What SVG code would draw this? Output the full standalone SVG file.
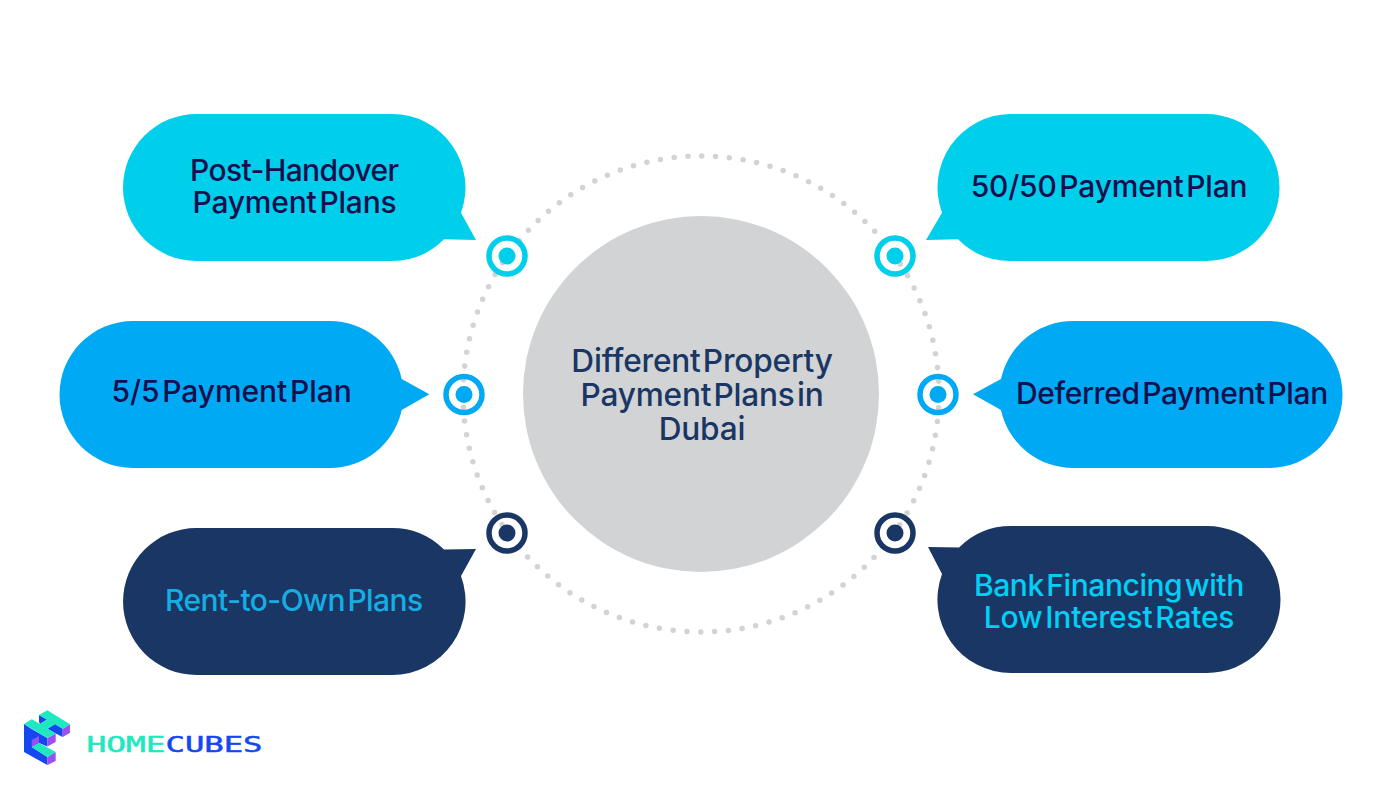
<svg xmlns="http://www.w3.org/2000/svg" width="1400" height="789" viewBox="0 0 1400 789">
<style>
text{font-family:"Inter","Noto Sans","Liberation Sans",sans-serif;font-size:30px;font-weight:500;text-anchor:middle;word-spacing:-5px;letter-spacing:-.2px}
.c{font-size:31.6px;word-spacing:-6px}
.d{fill:#160f4d}.n{fill:#1a3664}.l{fill:#00d0f5}.r{fill:none;stroke-width:5.5}
.logo{font-family:"DejaVu Sans Mono","Liberation Mono",monospace;font-size:22px;font-weight:400;text-anchor:start;word-spacing:0;letter-spacing:0;stroke-width:.5}
</style>
<rect width="1400" height="789" fill="#fff"/>
<g id="connectors"><circle cx="701" cy="394" r="238" fill="none" stroke="#d1d3d4" stroke-width="5.5" stroke-linecap="round" stroke-dasharray="0 13.85"/></g>
<g id="center"><circle cx="701" cy="394" r="178" fill="#d1d3d4"/>
<text class="n c" x="702" y="371.500">Different Property</text><text class="n c" x="702" y="405.500">Payment Plans in</text><text class="n c" x="702" y="439.500">Dubai</text></g>
<g id="post-handover"><path fill="#00cfeb" d="M196.500 114H392A73.500 73.500 0 0 1 461 212.700L476 240L444 239.300A73.500 73.500 0 0 1 392 261H196.500A73.500 73.500 0 0 1 196.500 114Z"/>
<text class="d" x="294.500" y="181" textLength="209">Post-Handover</text><text class="d" x="294.500" y="213">Payment Plans</text>
<circle class="r" cx="507" cy="256" r="18" stroke="#00cfeb"/><circle cx="507" cy="256" r="8.500" fill="#00cfeb"/></g>
<g id="fifty-fifty"><path fill="#00cfeb" d="M1206 114H1010A73.500 73.500 0 0 0 942 212.700L926 240L958 239.300A73.500 73.500 0 0 0 1010 261H1206A73.500 73.500 0 0 0 1206 114Z"/>
<text class="d" x="1109" y="197">50/50 Payment Plan</text>
<circle class="r" cx="895" cy="256" r="18" stroke="#00cfeb"/><circle cx="895" cy="256" r="8.500" fill="#00cfeb"/></g>
<g id="five-five"><path fill="#00a9f4" d="M133 321H329A73.500 73.500 0 0 1 401.700 379L429.300 394.300L401.700 410A73.500 73.500 0 0 1 329 468H133A73.500 73.500 0 0 1 133 321Z"/>
<text class="d" x="231.500" y="402" textLength="240">5/5 Payment Plan</text>
<circle class="r" cx="464" cy="394.500" r="18" stroke="#00a9f4"/><circle cx="464" cy="394.500" r="8.500" fill="#00a9f4"/></g>
<g id="deferred"><path fill="#00a9f4" d="M1269 321H1073A73.500 73.500 0 0 0 1001 379L973 394.300L1001 410A73.500 73.500 0 0 0 1073 468H1269A73.500 73.500 0 0 0 1269 321Z"/>
<text class="d" x="1172" y="404" textLength="312">Deferred Payment Plan</text>
<circle class="r" cx="938" cy="394.500" r="18" stroke="#00a9f4"/><circle cx="938" cy="394.500" r="8.500" fill="#00a9f4"/></g>
<g id="rent-to-own"><path fill="#1a3664" d="M196.500 528H392A73.500 73.500 0 0 1 444 549.500L476 549L461 576A73.500 73.500 0 0 1 392 675H196.500A73.500 73.500 0 0 1 196.500 528Z"/>
<text fill="#16aee2" x="294" y="611" textLength="258">Rent-to-Own Plans</text>
<circle class="r" cx="507" cy="533" r="18" stroke="#1a3664"/><circle cx="507" cy="533" r="8.500" fill="#1a3664"/></g>
<g id="bank-financing"><path fill="#1a3664" d="M1207 526H1011.500A73.500 73.500 0 0 0 959 547.500L928 547L942 574A73.500 73.500 0 0 0 1011.500 673H1207A73.500 73.500 0 0 0 1207 526Z"/>
<text class="l" x="1109" y="596" textLength="270">Bank Financing with</text><text class="l" x="1109" y="628">Low Interest Rates</text>
<circle class="r" cx="895" cy="533" r="18" stroke="#1a3664"/><circle cx="895" cy="533" r="8.500" fill="#1a3664"/></g>
<g id="logo">
<path fill="#1447f0" d="M24 724L31.700 729L47.300 738V746.500L39 743L31.700 747L47.300 757V765L24 752Z"/>
<path fill="#1447f0" d="M39 715L47 719.400L40 724L39 722Z"/>
<path fill="#1447f0" d="M47.500 728.700L55 724L62.700 728.700V737L55.700 733.500Z"/>
<path fill="#9b4ff0" d="M31.700 747V740L39 736V743Z"/>
<path fill="#9b4ff0" d="M47.300 746.500V738L55.700 733.500V742Z"/>
<path fill="#9b4ff0" d="M62.700 728.700L70 724.300V732.700L62.700 737Z"/>
<path fill="#9b4ff0" d="M47.300 757L55.700 752V761L47.300 765Z"/>
<path fill="#1de8c0" d="M24 724L31.700 719.300L40 724L47 719.400L39 715L47.300 710.300L70 724.300L62.700 728.700L55 724L47.500 728.700L55.700 733.500L47.300 738Z"/>
<path fill="#1de8c0" d="M31.700 747L39 743L55.700 752L47.300 757Z"/>
<text class="logo" x="86.500" y="751.500" fill="#1de8c0" stroke="#1de8c0" textLength="79" lengthAdjust="spacingAndGlyphs">HOME</text>
<text class="logo" x="165.500" y="751.500" fill="#1447f0" stroke="#1447f0" textLength="97" lengthAdjust="spacingAndGlyphs">CUBES</text>
</g>
</svg>
